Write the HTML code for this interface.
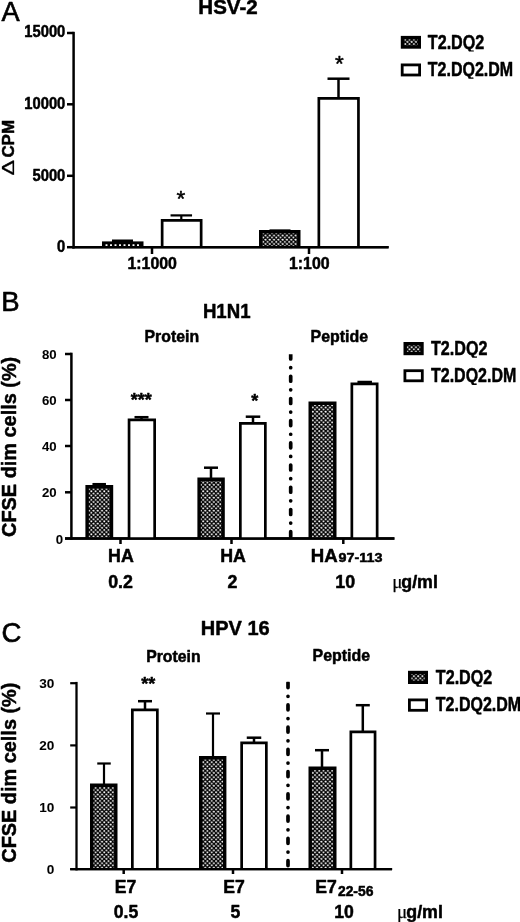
<!DOCTYPE html>
<html><head><meta charset="utf-8"><title>Figure</title>
<style>
html,body{margin:0;padding:0;background:#fff;}
body{width:520px;height:922px;overflow:hidden;}
svg{display:block;font-family:"Liberation Sans",sans-serif;fill:#000;}
text{stroke:#000;stroke-width:0.5px;stroke-linejoin:round;}
.n{stroke-width:0.25px;}
.p{stroke-width:0.65px;}
.t{stroke-width:0.05px;}
</style></head><body>
<svg width="520" height="922" viewBox="0 0 520 922">
<defs>
<pattern id="dots" x="0" y="0" width="4.3" height="4.3" patternUnits="userSpaceOnUse">
<rect width="4.3" height="4.3" fill="#000"/>
<rect x="0.2" y="0.2" width="1.75" height="1.75" rx="0.4" fill="#fff"/>
<rect x="2.35" y="2.35" width="1.75" height="1.75" rx="0.4" fill="#fff"/>
</pattern>
</defs>
<rect width="520" height="922" fill="#fff"/>

<text x="1.5" y="20.8" font-size="27.3" font-weight="normal" text-anchor="start" textLength="18.2" lengthAdjust="spacingAndGlyphs" class="p">A</text>
<text x="228" y="14.1" font-size="20.8" font-weight="bold" text-anchor="middle" textLength="59.3" lengthAdjust="spacingAndGlyphs" >HSV-2</text>
<line x1="73.6" y1="31.8" x2="73.6" y2="248.45" stroke="#000" stroke-width="2.5" />
<line x1="72.35" y1="247.2" x2="388.6" y2="247.2" stroke="#000" stroke-width="2.4" />
<line x1="67" y1="33" x2="73.6" y2="33" stroke="#000" stroke-width="2.5" />
<text x="65.3" y="37.4" font-size="16" font-weight="bold" text-anchor="end" textLength="41.0" lengthAdjust="spacingAndGlyphs" >15000</text>
<line x1="67" y1="104.3" x2="73.6" y2="104.3" stroke="#000" stroke-width="2.5" />
<text x="65.3" y="109.0" font-size="16" font-weight="bold" text-anchor="end" textLength="41.0" lengthAdjust="spacingAndGlyphs" >10000</text>
<line x1="67" y1="175.8" x2="73.6" y2="175.8" stroke="#000" stroke-width="2.5" />
<text x="65.3" y="181.0" font-size="16" font-weight="bold" text-anchor="end" textLength="32.8" lengthAdjust="spacingAndGlyphs" >5000</text>
<line x1="67" y1="247.2" x2="73.6" y2="247.2" stroke="#000" stroke-width="2.5" />
<text x="65.3" y="252.3" font-size="16" font-weight="bold" text-anchor="end" textLength="8.2" lengthAdjust="spacingAndGlyphs" >0</text>
<text transform="translate(13.6,157.6) rotate(-90)" font-size="16.5" font-weight="bold" textLength="37.6" lengthAdjust="spacingAndGlyphs">CPM</text>
<text transform="translate(13.6,175.5) rotate(-90)" font-size="16.5" font-weight="bold" class="n" style="font-weight:normal" textLength="15.5" lengthAdjust="spacingAndGlyphs">Δ</text>
<rect x="102" y="241.4" width="41.5" height="6" fill="#000"/>
<rect x="112" y="239.5" width="21" height="2.5" fill="#000"/>
<rect x="105.50" y="244.2" width="2" height="1.9" rx="0.4" fill="#fff"/>
<rect x="110.00" y="244.2" width="2" height="1.9" rx="0.4" fill="#fff"/>
<rect x="114.50" y="244.2" width="2" height="1.9" rx="0.4" fill="#fff"/>
<rect x="119.00" y="244.2" width="2" height="1.9" rx="0.4" fill="#fff"/>
<rect x="123.50" y="244.2" width="2" height="1.9" rx="0.4" fill="#fff"/>
<rect x="128.00" y="244.2" width="2" height="1.9" rx="0.4" fill="#fff"/>
<rect x="132.50" y="244.2" width="2" height="1.9" rx="0.4" fill="#fff"/>
<rect x="137.00" y="244.2" width="2" height="1.9" rx="0.4" fill="#fff"/>
<path d="M162.15 247.2V220.35H201.15V247.2" fill="#fff" stroke="#000" stroke-width="2.7"/>
<line x1="181.3" y1="215.4" x2="181.3" y2="219.5" stroke="#000" stroke-width="2.2" />
<line x1="170.55" y1="215.4" x2="192.05" y2="215.4" stroke="#000" stroke-width="2.2" />
<text x="181" y="206.3" font-size="22.5" font-weight="normal" text-anchor="middle" >*</text>
<path d="M260.70 247.2V231.80H298.80V247.2" fill="url(#dots)" stroke="#000" stroke-width="3.4"/>
<line x1="280" y1="230.6" x2="280" y2="231" stroke="#000" stroke-width="2.5" />
<line x1="269.5" y1="230.6" x2="290.5" y2="230.6" stroke="#000" stroke-width="2.5" />
<path d="M318.85 247.2V98.35H358.45V247.2" fill="#fff" stroke="#000" stroke-width="2.7"/>
<line x1="338.5" y1="78.7" x2="338.5" y2="98" stroke="#000" stroke-width="2.5" />
<line x1="327.5" y1="78.7" x2="349.5" y2="78.7" stroke="#000" stroke-width="2.5" />
<text x="339.4" y="71" font-size="22.5" font-weight="normal" text-anchor="middle" >*</text>
<line x1="72.35" y1="247.2" x2="388.6" y2="247.2" stroke="#000" stroke-width="2.25" />
<line x1="152" y1="247.2" x2="152" y2="254" stroke="#000" stroke-width="2.5" />
<line x1="309" y1="247.2" x2="309" y2="254" stroke="#000" stroke-width="2.5" />
<text x="152.2" y="269.4" font-size="17.1" font-weight="bold" text-anchor="middle" textLength="49.5" lengthAdjust="spacingAndGlyphs" >1:1000</text>
<text x="309.3" y="269.4" font-size="17.1" font-weight="bold" text-anchor="middle" textLength="40.7" lengthAdjust="spacingAndGlyphs" >1:100</text>
<rect x="402.50" y="37.60" width="16.80" height="9.40" fill="url(#dots)" stroke="#000" stroke-width="3.4"/>
<clipPath id="lc1"><rect x="425.8" y="26.6" width="62.5" height="25"/></clipPath>
<text x="427.8" y="48.6" font-size="20" font-weight="bold" textLength="56.5" lengthAdjust="spacingAndGlyphs" clip-path="url(#lc1)">T2.DQ2</text>
<rect x="402.20" y="64.90" width="17.40" height="10.10" fill="#fff" stroke="#000" stroke-width="2.8"/>
<clipPath id="lc2"><rect x="425.8" y="53.8" width="91.3" height="25"/></clipPath>
<text x="427.8" y="75.8" font-size="20" font-weight="bold" textLength="85.3" lengthAdjust="spacingAndGlyphs" clip-path="url(#lc2)">T2.DQ2.DM</text>
<text x="1.2" y="311" font-size="27.5" font-weight="normal" text-anchor="start" class="p">B</text>
<text x="226.7" y="318.3" font-size="20.8" font-weight="bold" text-anchor="middle" textLength="47.6" lengthAdjust="spacingAndGlyphs" >H1N1</text>
<text x="171.8" y="341.5" font-size="16.4" font-weight="bold" text-anchor="middle" textLength="54.5" lengthAdjust="spacingAndGlyphs" >Protein</text>
<text x="339.3" y="342" font-size="16.4" font-weight="bold" text-anchor="middle" textLength="57.5" lengthAdjust="spacingAndGlyphs" >Peptide</text>
<line x1="71.4" y1="352.7" x2="71.4" y2="539.85" stroke="#000" stroke-width="2.5" />
<line x1="65" y1="538.6" x2="394.4" y2="538.6" stroke="#000" stroke-width="2.5" />
<line x1="65" y1="354" x2="71.4" y2="354" stroke="#000" stroke-width="2.5" />
<text x="56.6" y="359.1" font-size="13.2" font-weight="bold" text-anchor="end" class="t">80</text>
<line x1="65" y1="400" x2="71.4" y2="400" stroke="#000" stroke-width="2.5" />
<text x="56.6" y="405.1" font-size="13.2" font-weight="bold" text-anchor="end" class="t">60</text>
<line x1="65" y1="446" x2="71.4" y2="446" stroke="#000" stroke-width="2.5" />
<text x="56.6" y="451.1" font-size="13.2" font-weight="bold" text-anchor="end" class="t">40</text>
<line x1="65" y1="492.3" x2="71.4" y2="492.3" stroke="#000" stroke-width="2.5" />
<text x="56.6" y="497.40000000000003" font-size="13.2" font-weight="bold" text-anchor="end" class="t">20</text>
<text x="63.2" y="543.8000000000001" font-size="13.2" font-weight="bold" text-anchor="end" class="t">0</text>
<text transform="translate(16.4,536.9) rotate(-90)" font-size="20.7" font-weight="bold" textLength="180.1" lengthAdjust="spacingAndGlyphs">CFSE dim cells (%)</text>
<path d="M87.10 538.6V486.70H111.50V538.6" fill="url(#dots)" stroke="#000" stroke-width="3.4"/>
<line x1="99.2" y1="484.2" x2="99.2" y2="486" stroke="#000" stroke-width="2.5" />
<line x1="92.45" y1="484.2" x2="105.95" y2="484.2" stroke="#000" stroke-width="2.5" />
<path d="M129.05 538.6V419.85H154.65V538.6" fill="#fff" stroke="#000" stroke-width="2.7"/>
<line x1="141.5" y1="417.2" x2="141.5" y2="419" stroke="#000" stroke-width="2.5" />
<line x1="134.5" y1="417.2" x2="148.5" y2="417.2" stroke="#000" stroke-width="2.5" />
<text x="141.2" y="405.6" font-size="18" font-weight="bold" text-anchor="middle" >***</text>
<path d="M199.10 538.6V479.20H223.10V538.6" fill="url(#dots)" stroke="#000" stroke-width="3.4"/>
<line x1="211" y1="467.7" x2="211" y2="478" stroke="#000" stroke-width="2.5" />
<line x1="204.0" y1="467.7" x2="218.0" y2="467.7" stroke="#000" stroke-width="2.5" />
<path d="M240.35 538.6V423.35H265.35V538.6" fill="#fff" stroke="#000" stroke-width="2.7"/>
<line x1="253" y1="416.7" x2="253" y2="423" stroke="#000" stroke-width="2.5" />
<line x1="245.75" y1="416.7" x2="260.25" y2="416.7" stroke="#000" stroke-width="2.5" />
<text x="254.7" y="406.8" font-size="18" font-weight="bold" text-anchor="middle" >*</text>
<clipPath id="dcb"><rect x="285" y="354.3" width="12" height="184"/></clipPath>
<line x1="290.7" y1="354.1" x2="290.7" y2="537.2" stroke="#000" stroke-width="3.7" stroke-linecap="round" stroke-dasharray="4.9 8.645 0.01 8.645" clip-path="url(#dcb)"/>
<path d="M310.20 538.6V403.20H334.80V538.6" fill="url(#dots)" stroke="#000" stroke-width="3.4"/>
<path d="M351.85 538.6V383.85H377.15V538.6" fill="#fff" stroke="#000" stroke-width="2.7"/>
<line x1="364.7" y1="382" x2="364.7" y2="383" stroke="#000" stroke-width="2.5" />
<line x1="357.45" y1="382" x2="371.95" y2="382" stroke="#000" stroke-width="2.5" />
<line x1="65" y1="538.6" x2="394.4" y2="538.6" stroke="#000" stroke-width="2.5" />
<line x1="120.5" y1="538.6" x2="120.5" y2="544" stroke="#000" stroke-width="2.5" />
<line x1="231.5" y1="538.6" x2="231.5" y2="544" stroke="#000" stroke-width="2.5" />
<line x1="343.3" y1="538.6" x2="343.3" y2="544" stroke="#000" stroke-width="2.5" />
<text x="120.9" y="562.3" font-size="17.8" font-weight="bold" text-anchor="middle" >HA</text>
<text x="120.5" y="587.5" font-size="17.8" font-weight="bold" text-anchor="middle" >0.2</text>
<text x="233.1" y="562.3" font-size="17.8" font-weight="bold" text-anchor="middle" >HA</text>
<text x="232.4" y="587.5" font-size="17.8" font-weight="bold" text-anchor="middle" >2</text>
<text x="310.8" y="562.3" font-size="17.8" font-weight="bold" text-anchor="start" textLength="26.9" lengthAdjust="spacingAndGlyphs" >HA</text>
<text x="338.6" y="562.3" font-size="13.3" font-weight="bold" text-anchor="start" textLength="43.9" lengthAdjust="spacingAndGlyphs" >97-113</text>
<text x="345.2" y="587.5" font-size="17.8" font-weight="bold" text-anchor="middle" >10</text>
<text x="392.3" y="587.7" font-size="17.8"><tspan font-family="'Liberation Serif',serif" font-weight="normal" font-size="19" class="n">μ</tspan><tspan font-weight="bold" x="401.3">g/ml</tspan></text>
<rect x="405.20" y="343.70" width="16.80" height="9.80" fill="url(#dots)" stroke="#000" stroke-width="3.4"/>
<clipPath id="lc3"><rect x="429" y="332.7" width="62.5" height="25"/></clipPath>
<text x="431" y="354.7" font-size="20" font-weight="bold" textLength="56.5" lengthAdjust="spacingAndGlyphs" clip-path="url(#lc3)">T2.DQ2</text>
<rect x="404.90" y="370.70" width="17.40" height="10.10" fill="#fff" stroke="#000" stroke-width="2.8"/>
<clipPath id="lc4"><rect x="429" y="359.9" width="91.3" height="25"/></clipPath>
<text x="431" y="381.9" font-size="20" font-weight="bold" textLength="85.3" lengthAdjust="spacingAndGlyphs" clip-path="url(#lc4)">T2.DQ2.DM</text>
<text x="1.6" y="641.6" font-size="27.5" font-weight="normal" text-anchor="start" class="p">C</text>
<text x="235.2" y="635" font-size="20.5" font-weight="bold" text-anchor="middle" textLength="68.9" lengthAdjust="spacingAndGlyphs" >HPV 16</text>
<text x="173.4" y="661.7" font-size="16.4" font-weight="bold" text-anchor="middle" textLength="54.5" lengthAdjust="spacingAndGlyphs" >Protein</text>
<text x="341.3" y="661.4" font-size="16.4" font-weight="bold" text-anchor="middle" textLength="57.5" lengthAdjust="spacingAndGlyphs" >Peptide</text>
<line x1="76.5" y1="681.9" x2="76.5" y2="870.45" stroke="#000" stroke-width="2.3" />
<line x1="70.2" y1="869.2" x2="392.1" y2="869.2" stroke="#000" stroke-width="2.3" />
<line x1="70.2" y1="683.1999999999999" x2="76.5" y2="683.1999999999999" stroke="#000" stroke-width="2.2" />
<text x="54.4" y="687.8" font-size="13" font-weight="bold" text-anchor="end" textLength="15.1" lengthAdjust="spacingAndGlyphs" class="t">30</text>
<line x1="70.2" y1="745.4" x2="76.5" y2="745.4" stroke="#000" stroke-width="2.2" />
<text x="54.4" y="750.0" font-size="13" font-weight="bold" text-anchor="end" textLength="15.1" lengthAdjust="spacingAndGlyphs" class="t">20</text>
<line x1="70.2" y1="807.5" x2="76.5" y2="807.5" stroke="#000" stroke-width="2.2" />
<text x="54.4" y="812.1" font-size="13" font-weight="bold" text-anchor="end" textLength="15.1" lengthAdjust="spacingAndGlyphs" class="t">10</text>
<text x="54.4" y="874.2" font-size="13" font-weight="bold" text-anchor="end" textLength="7.55" lengthAdjust="spacingAndGlyphs" class="t">0</text>
<text transform="translate(16.3,862.7) rotate(-90)" font-size="20.7" font-weight="bold" textLength="180.1" lengthAdjust="spacingAndGlyphs">CFSE dim cells (%)</text>
<path d="M91.70 869.2V785.20H115.80V869.2" fill="url(#dots)" stroke="#000" stroke-width="3.4"/>
<line x1="104" y1="763.5" x2="104" y2="784" stroke="#000" stroke-width="2.2" />
<line x1="97.25" y1="763.5" x2="110.75" y2="763.5" stroke="#000" stroke-width="2.2" />
<path d="M132.35 869.2V709.85H157.35V869.2" fill="#fff" stroke="#000" stroke-width="2.7"/>
<line x1="145" y1="701.2" x2="145" y2="709" stroke="#000" stroke-width="2.5" />
<line x1="138.0" y1="701.2" x2="152.0" y2="701.2" stroke="#000" stroke-width="2.5" />
<text x="148.2" y="690" font-size="18" font-weight="bold" text-anchor="middle" >**</text>
<path d="M200.70 869.2V757.70H224.70V869.2" fill="url(#dots)" stroke="#000" stroke-width="3.4"/>
<line x1="213" y1="713.5" x2="213" y2="757" stroke="#000" stroke-width="2.2" />
<line x1="206.0" y1="713.5" x2="220.0" y2="713.5" stroke="#000" stroke-width="2.2" />
<path d="M241.65 869.2V742.85H266.35V869.2" fill="#fff" stroke="#000" stroke-width="2.7"/>
<line x1="254" y1="737.7" x2="254" y2="742" stroke="#000" stroke-width="2.5" />
<line x1="246.75" y1="737.7" x2="261.25" y2="737.7" stroke="#000" stroke-width="2.5" />
<clipPath id="dcc"><rect x="282" y="681.8" width="12" height="187"/></clipPath>
<line x1="288" y1="682.7" x2="288" y2="867" stroke="#000" stroke-width="3.7" stroke-linecap="round" stroke-dasharray="4.9 8.67 0.01 8.67" clip-path="url(#dcc)"/>
<path d="M310.20 869.2V768.20H334.80V869.2" fill="url(#dots)" stroke="#000" stroke-width="3.4"/>
<line x1="322" y1="750.2" x2="322" y2="767" stroke="#000" stroke-width="2.5" />
<line x1="315.0" y1="750.2" x2="329.0" y2="750.2" stroke="#000" stroke-width="2.5" />
<path d="M350.85 869.2V731.85H375.05V869.2" fill="#fff" stroke="#000" stroke-width="2.7"/>
<line x1="362.8" y1="705.2" x2="362.8" y2="731" stroke="#000" stroke-width="2.5" />
<line x1="355.8" y1="705.2" x2="369.8" y2="705.2" stroke="#000" stroke-width="2.5" />
<line x1="70.2" y1="869.2" x2="392.1" y2="869.2" stroke="#000" stroke-width="2.3" />
<line x1="123.7" y1="869.2" x2="123.7" y2="874" stroke="#000" stroke-width="2.5" />
<line x1="233" y1="869.2" x2="233" y2="874" stroke="#000" stroke-width="2.5" />
<line x1="342" y1="869.2" x2="342" y2="874" stroke="#000" stroke-width="2.5" />
<text x="125.5" y="892.6" font-size="17.6" font-weight="bold" text-anchor="middle" >E7</text>
<text x="126" y="917.8" font-size="17.6" font-weight="bold" text-anchor="middle" >0.5</text>
<text x="234.1" y="892.6" font-size="17.6" font-weight="bold" text-anchor="middle" >E7</text>
<text x="235.3" y="917.8" font-size="17.6" font-weight="bold" text-anchor="middle" >5</text>
<text x="315.3" y="892.6" font-size="17.6" font-weight="bold" text-anchor="start" >E7</text>
<text x="337.9" y="895.7" font-size="14.3" font-weight="bold" text-anchor="start" textLength="35.6" lengthAdjust="spacingAndGlyphs" >22-56</text>
<text x="344" y="917.8" font-size="17.6" font-weight="bold" text-anchor="middle" >10</text>
<text x="397" y="917.9" font-size="17.8"><tspan font-family="'Liberation Serif',serif" font-weight="normal" font-size="19" class="n">μ</tspan><tspan font-weight="bold" x="406.3">g/ml</tspan></text>
<rect x="409.70" y="672.50" width="16.60" height="9.80" fill="url(#dots)" stroke="#000" stroke-width="3.4"/>
<clipPath id="lc5"><rect x="433.8" y="661.7" width="62.5" height="25"/></clipPath>
<text x="435.8" y="683.7" font-size="20" font-weight="bold" textLength="56.5" lengthAdjust="spacingAndGlyphs" clip-path="url(#lc5)">T2.DQ2</text>
<rect x="409.40" y="699.90" width="17.20" height="10.40" fill="#fff" stroke="#000" stroke-width="2.8"/>
<clipPath id="lc6"><rect x="433.8" y="689.4" width="91.3" height="25"/></clipPath>
<text x="435.8" y="711.4" font-size="20" font-weight="bold" textLength="85.3" lengthAdjust="spacingAndGlyphs" clip-path="url(#lc6)">T2.DQ2.DM</text>
</svg></body></html>
